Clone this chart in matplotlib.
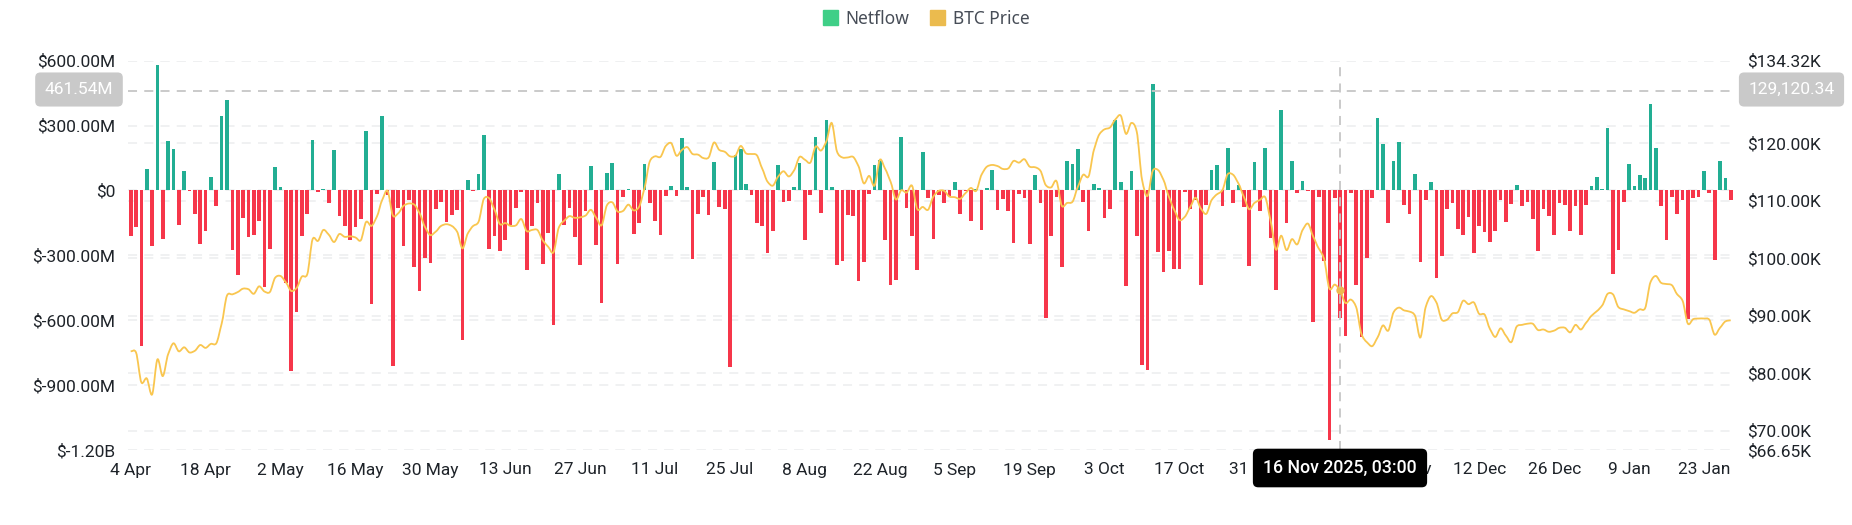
import numpy as np
import matplotlib
matplotlib.use('Agg')
import matplotlib.pyplot as plt
from matplotlib.patches import Patch, PathPatch
from matplotlib.path import Path
from matplotlib.transforms import blended_transform_factory

# daily netflow, $M, starting 4 Apr 2025
netflow = [
    -209, -167, -721, 100, -255, 580, -223, 229, 193, -159, 90, -2, -111, -249, -189, 60, -73, 342, 416, -277,
    -390, -128, -215, -207, -141, -447, -269, 110, 17, -426, -837, -563, -209, -110, 235, -8, 5, -56, 187, -116,
    -162, -229, -167, -130, 277, -525, -17, 345, -23, -811, -80, -255, -46, -356, -467, -313, -336, -84, -54, -144,
    -113, -90, -693, 50, -3, 74, 257, -271, -209, -279, -231, -159, -79, -8, -367, -166, -56, -342, -197, -621,
    74, -159, -82, -214, -344, -97, 115, -252, -520, 82, 125, -342, -32, 8, -200, -149, 124, -60, -142, -207,
    -26, 19, -26, 241, 14, -316, -108, -31, -115, 132, -76, -84, -816, 162, 193, 32, -22, -149, -162, -289,
    -186, 118, -53, -51, 15, 125, -227, -22, 245, -105, 328, 14, -344, -328, -113, -118, -418, -330, -15, 116,
    142, -227, -435, -412, 249, -82, -209, -367, 180, -37, -226, -19, -56, -25, 39, -111, -3, -142, 8, -181,
    12, 96, -90, -39, -96, -241, -15, -36, -246, 73, -60, -588, -210, -31, -354, 138, 122, 190, -53, -189,
    28, 11, -128, -84, 328, 40, -443, 88, -209, -805, -831, 492, -283, -378, -280, -364, -362, -8, -88, -46,
    -438, -65, 93, 118, -71, 198, -56, 26, -77, -347, 133, -96, 198, -221, -461, 371, -150, 138, -11, 45,
    -1, -610, -29, -325, -1155, -34, -588, -672, -14, -438, -678, -311, -36, 337, 217, -152, 136, 223, -68, -110,
    77, -333, -46, 40, -407, -302, -87, -59, -176, -207, -124, -289, -166, -193, -237, -187, -43, -145, -62, 26,
    -74, -53, -133, -282, -87, -118, -206, -56, -68, -189, -74, -207, -65, 20, 60, 5, 291, -384, -275, -53,
    124, 19, 70, 57, 402, 195, -74, -231, -31, -107, -42, -593, -37, -28, 88, -11, -322, 136, 57, -42,
]

# BTC price, $K, same days
btc_price = [
    83.8, 83.6, 78.4, 79.1, 76.3, 82.4, 79.5, 83.3, 85.2, 83.8, 84.5, 83.6, 83.9, 84.9, 84.4, 85.1, 85.2, 88.6, 93.5, 93.7,
    94.1, 94.7, 94.6, 93.8, 95.1, 94.2, 94.1, 96.6, 96.9, 95.8, 94.3, 94.8, 96.8, 97.2, 103.3, 103.0, 104.9, 104.1, 102.8, 104.2,
    103.7, 103.8, 103.6, 103.1, 106.3, 105.6, 107.2, 110.1, 111.7, 107.4, 107.8, 109.1, 109.5, 109.3, 107.8, 105.4, 104.0, 104.6, 105.6, 105.9,
    105.6, 104.6, 101.7, 104.3, 105.6, 106.3, 110.3, 110.4, 108.4, 105.9, 106.1, 105.6, 105.7, 106.8, 104.7, 104.9, 104.9, 103.1, 102.0, 101.0,
    105.3, 106.5, 107.3, 107.0, 107.1, 107.4, 108.4, 107.0, 105.7, 109.2, 109.7, 108.1, 108.2, 109.3, 108.3, 108.9, 112.1, 116.8, 117.7, 117.6,
    119.5, 120.0, 117.8, 118.8, 119.3, 118.1, 118.0, 117.4, 117.5, 120.1, 118.8, 118.5, 117.7, 117.8, 119.5, 118.2, 118.1, 117.9, 115.6, 113.3,
    112.6, 114.2, 115.1, 114.2, 115.3, 117.6, 117.1, 116.6, 119.4, 118.7, 120.3, 123.5, 118.5, 117.5, 117.5, 117.6, 116.0, 113.0, 114.3, 112.6,
    117.1, 115.5, 113.3, 110.2, 111.8, 111.4, 112.6, 108.5, 108.9, 108.4, 110.7, 111.7, 111.7, 110.7, 110.6, 110.3, 111.3, 112.2, 111.7, 114.5,
    115.9, 116.2, 116.0, 115.5, 115.6, 116.9, 116.6, 117.2, 115.9, 115.8, 115.2, 112.7, 112.3, 113.4, 109.1, 109.6, 109.8, 112.4, 114.5, 114.2,
    118.8, 121.5, 122.4, 122.7, 124.1, 124.8, 121.6, 123.5, 122.0, 113.6, 110.8, 115.2, 115.3, 113.6, 110.7, 108.4, 106.6, 107.2, 108.9, 110.5,
    108.6, 107.7, 110.1, 111.1, 111.8, 114.6, 114.5, 113.0, 110.7, 108.5, 109.6, 110.1, 110.6, 106.6, 101.5, 103.9, 101.4, 103.3, 102.4, 104.9,
    106.0, 103.7, 101.7, 99.9, 94.7, 95.4, 94.4, 92.2, 92.8, 91.5, 86.8, 85.4, 84.7, 86.2, 88.3, 87.4, 90.6, 91.4, 90.9, 90.7,
    90.0, 86.2, 91.5, 93.4, 92.3, 89.3, 89.3, 90.4, 90.6, 92.6, 92.0, 92.3, 90.3, 90.2, 87.7, 86.3, 87.8, 86.5, 85.4, 88.1,
    88.4, 88.6, 88.6, 87.5, 87.6, 87.2, 87.4, 87.9, 87.9, 87.1, 88.4, 87.6, 88.8, 90.0, 90.8, 91.8, 93.8, 93.7, 91.5, 91.1,
    90.8, 90.5, 91.1, 91.3, 95.8, 96.9, 95.7, 95.5, 95.3, 93.7, 92.6, 88.6, 89.4, 89.5, 89.5, 89.3, 86.7, 87.9, 89.0, 89.2,
]

date_labels = ['4 Apr', '18 Apr', '2 May', '16 May', '30 May', '13 Jun', '27 Jun', '11 Jul',
               '25 Jul', '8 Aug', '22 Aug', '5 Sep', '19 Sep', '3 Oct', '17 Oct', '31 Oct',
               '14 Nov', '28 Nov', '12 Dec', '26 Dec', '9 Jan', '23 Jan']
left_ticks = [-1200, -900, -600, -300, 0, 300, 600]
left_labels = ['$-1.20B', '$-900.00M', '$-600.00M', '$-300.00M', '$0', '$300.00M', '$600.00M']
right_ticks = [66.65, 70, 80, 90, 100, 110, 120, 134.32]
right_labels = ['$66.65K', '$70.00K', '$80.00K', '$90.00K', '$100.00K', '$110.00K', '$120.00K', '$134.32K']

hover_index = 226
hover_netflow = 461.54
hover_price = 129.12034

GREEN = '#22AE93'
RED = '#F6364A'
LINE = '#F9C64F'
GRID = '#EFF0F1'
CROSS = '#C6C6C6'
TEXT = '#1E2329'

plt.rcParams['font.family'] = ['Roboto', 'DejaVu Sans']

W, H = 1852, 525
fig = plt.figure(figsize=(W / 100, H / 100), dpi=100)
ax = fig.add_axes([128 / W, 1 - 450 / H, 1605.4 / W, 389.3 / H])
ax2 = ax.twinx()

x = np.arange(len(netflow))
flow = np.array(netflow)
price = np.array(btc_price)

ax.bar(x, flow, width=0.69, color=np.where(flow >= 0, GREEN, RED), zorder=3)

# the site draws a smoothed line: Bezier segments through the daily points
slope = np.gradient(price) * 0.8
verts = [(x[0], price[0])]
for i in x[:-1]:
    verts += [(i + 1 / 3, price[i] + slope[i] / 3),
              (i + 2 / 3, price[i + 1] - slope[i + 1] / 3),
              (i + 1, price[i + 1])]
codes = [Path.MOVETO] + [Path.CURVE4] * (len(verts) - 1)
ax2.add_patch(PathPatch(Path(verts, codes), fc='none', ec=LINE, lw=1.3, zorder=3))
ax2.plot(x[hover_index], price[hover_index], 'o', color='#EDB94F', ms=5, zorder=4)

ax.set_xlim(-0.5, len(netflow) - 0.5)
ax.set_ylim(-1200, 600)
ax2.set_ylim(66.65, 134.32)

ax.set_xticks(x[::14])
ax.set_xticklabels(date_labels)
ax.set_yticks(left_ticks)
ax.set_yticklabels(left_labels)
ax2.set_yticks(right_ticks)
ax2.set_yticklabels(right_labels)

ax.tick_params(axis='both', length=0, labelsize=12.5, labelcolor=TEXT, pad=9)
ax2.tick_params(axis='y', length=0, labelsize=12.5, labelcolor=TEXT, pad=10)

# both sets of grid lines stay under the bars
dash = (0, (5, 4))
for t in left_ticks:
    ax.axhline(t, color=GRID, lw=1.3, ls=dash, zorder=0)
right_trans = blended_transform_factory(ax.transAxes, ax2.transData)
for t in right_ticks:
    ax.plot([0, 1], [t, t], transform=right_trans, color=GRID, lw=1.3, ls=dash, zorder=0)

for a in (ax, ax2):
    for s in a.spines.values():
        s.set_visible(False)

# hover crosshair
ax2.axhline(hover_price, color=CROSS, lw=1.3, ls=dash, zorder=5)
ax2.axvline(hover_index, color=CROSS, lw=1.3, ls=dash, zorder=5)

badge = dict(boxstyle='round,pad=0.55,rounding_size=0.3', fc='#C9C9C9', ec='none')
fig.text(79 / W, 1 - 89.5 / H, '461.54M', color='white', fontsize=12.5, ha='center', va='center', bbox=badge)
fig.text(1791.5 / W, 1 - 89.5 / H, '129,120.34', color='white', fontsize=12.5, ha='center', va='center', bbox=badge)
fig.text(1340 / W, 1 - 468 / H, '16 Nov 2025, 03:00', color='white', fontsize=12.8, fontweight='medium',
         ha='center', va='center',
         bbox=dict(boxstyle='round,pad=0.58,rounding_size=0.3', fc='black', ec='none'))

handles = [Patch(color='#3FCF87', label='Netflow'), Patch(color='#EBBB4E', label='BTC Price')]
fig.legend(handles=handles, loc='center', bbox_to_anchor=(926 / W, 1 - 18.5 / H), ncol=2, frameon=False,
           prop={'family': ['Noto Sans', 'DejaVu Sans'], 'size': 12.5}, labelcolor='#474D57',
           handlelength=0.87, handleheight=0.87, handletextpad=0.46, columnspacing=1.15)

fig.savefig('out.png', dpi=100)
